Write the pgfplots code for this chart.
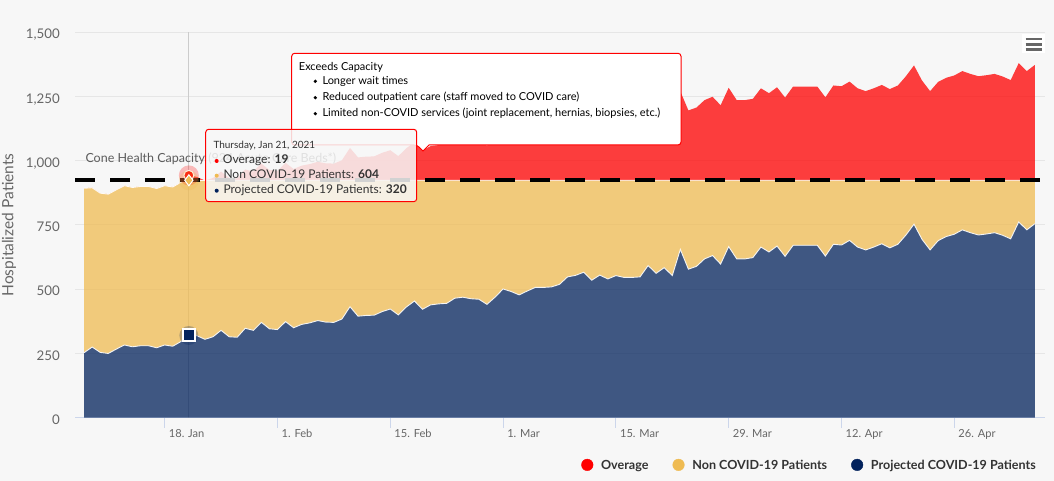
\documentclass[border=0pt]{standalone}
\usepackage{fontspec}
\setmainfont{Lato}
\usepackage{pgfplots}
\pgfplotsset{compat=1.18}
\usepackage{pgfplotstable}

\definecolor{pagebg}{HTML}{F7F7F7}
\definecolor{ovr}{HTML}{FF0000}
\definecolor{noncov}{HTML}{EFBB52}
\definecolor{cov}{HTML}{02225C}
\definecolor{gridc}{HTML}{E6E6E6}
\definecolor{axisc}{HTML}{CCD6EB}
\definecolor{lbl}{HTML}{666666}
\definecolor{txt}{HTML}{333333}
\definecolor{hairc}{HTML}{CCCCCC}

\newcommand\fs[1]{\fontsize{#1}{#1}\selectfont}

% day = days after 18 Jan 2021; cov = projected COVID-19 patients,
% non = non COVID-19 patients up to capacity, over = overage above 924 beds,
% mid = cov + non (top of the non COVID-19 band)
\pgfplotstableread{
day cov non over mid
-10 253 640 0 893
-9 275 620 0 895
-8 254 620 0 874
-7 250 620 0 870
-6 267 620 0 887
-5 283 620 0 903
-4 276 620 0 896
-3 280 620 0 900
-2 280 620 0 900
-1 272 620 0 892
0 283 620 0 903
1 278 620 0 898
2 296 620 0 916
3 320 604 19 924
4 319 605 13 924
5 305 618 0 923
6 315 609 9 924
7 340 584 34 924
8 315 609 9 924
9 313 611 7 924
10 348 576 42 924
11 340 584 34 924
12 371 553 65 924
13 346 578 40 924
14 343 581 37 924
15 374 550 68 924
16 350 574 44 924
17 363 561 57 924
18 369 555 63 924
19 378 546 72 924
20 372 552 66 924
21 371 553 65 924
22 384 540 78 924
23 432 492 126 924
24 395 529 89 924
25 398 526 92 924
26 399 525 93 924
27 413 511 107 924
28 423 501 117 924
29 400 524 94 924
30 431 493 125 924
31 454 470 148 924
32 422 502 116 924
33 439 485 133 924
34 443 481 137 924
35 445 479 139 924
36 465 459 159 924
37 469 455 163 924
38 463 461 157 924
39 461 463 155 924
40 441 483 135 924
41 469 455 163 924
42 501 423 195 924
43 491 433 185 924
44 478 446 172 924
45 493 431 187 924
46 507 417 201 924
47 507 417 201 924
48 509 415 203 924
49 519 405 213 924
50 548 376 242 924
51 554 370 248 924
52 566 358 260 924
53 535 389 229 924
54 555 369 249 924
55 540 384 234 924
56 553 371 247 924
57 546 378 240 924
58 546 378 240 924
59 548 376 242 924
60 592 332 286 924
61 562 362 256 924
62 584 340 278 924
63 553 371 247 924
64 655 269 346 924
65 578 346 272 924
66 589 335 283 924
67 618 306 312 924
68 631 293 325 924
69 598 326 292 924
70 666 258 360 924
71 618 306 312 924
72 618 306 312 924
73 623 301 317 924
74 664 260 358 924
75 645 279 339 924
76 668 256 362 924
77 628 296 322 924
78 671 253 365 924
79 671 253 365 924
80 671 253 365 924
81 671 253 365 924
82 629 295 323 924
83 675 249 369 924
84 672 252 366 924
85 690 234 384 924
86 664 260 358 924
87 653 271 347 924
88 664 260 358 924
89 677 247 371 924
90 661 263 355 924
91 675 249 369 924
92 711 213 405 924
93 753 171 447 924
94 694 230 388 924
95 653 271 347 924
96 689 235 383 924
97 705 219 399 924
98 714 210 408 924
99 731 193 425 924
100 720 204 414 924
101 711 213 405 924
102 715 209 409 924
103 720 204 414 924
104 710 214 404 924
105 696 228 390 924
106 762 162 456 924
107 731 193 425 924
108 755 169 449 924
}\beds

\pgfplotsset{
  chartframe/.style={
    at={(75pt,63.3pt)}, anchor=south west,
    scale only axis, width=970pt, height=385.4pt,
    xmin=-11.13, xmax=109.26, ymin=0, ymax=1500,
  }
}

\begin{document}
\begin{tikzpicture}[x=1pt,y=1pt]
\useasboundingbox (0,0) rectangle (1054,481);
\fill[pagebg] (0,0) rectangle (1054,481);

% export menu button
\fill[white] (1022,428) rectangle (1045,447);
\foreach \yy in {442,436.7,431.7}
  \draw[line width=2.6pt, lbl] (1025.7,\yy) -- (1042.3,\yy);

% stacked areas, grid and axes
\begin{axis}[chartframe,
  stack plots=y,
  axis x line*=bottom, axis y line*=left,
  y axis line style={draw=none},
  x axis line style={draw=axisc, line width=1pt},
  tick align=outside,
  xtick={0,14,...,98},
  xticklabels={18. Jan,1. Feb,15. Feb,1. Mar,15. Mar,29. Mar,12. Apr,26. Apr},
  xtick style={draw=axisc, line width=1pt},
  major tick length=10pt,
  xticklabel style={anchor=base west, inner sep=0pt, xshift=4pt, yshift=-9.6pt, font=\fs{11.1}, text=lbl},
  ytick={0,250,...,1500},
  yticklabels={0,250,500,750,{1,000},{1,250},{1,500}},
  ytick style={draw=none},
  yticklabel style={anchor=base east, inner sep=0pt, xshift=-5pt, yshift=-6.7pt, font=\fs{13.3}, text=lbl},
  ymajorgrids,
  major grid style={draw=gridc, line width=1pt},
  extra x ticks={3},
  extra x tick labels={},
  extra x tick style={grid=major, major tick length=0pt, major grid style={draw=hairc, line width=1pt}},
  ylabel={Hospitalized Patients},
  ylabel style={at={(axis description cs:-0.0680,0.5)}, anchor=center, font=\fs{15.5}, text=lbl},
]
\addplot[draw=none, fill=cov, fill opacity=0.75] table[x=day, y=cov]{\beds} \closedcycle;
\addplot[draw=none, fill=noncov, fill opacity=0.75] table[x=day, y=non]{\beds} \closedcycle;
\addplot[draw=none, fill=ovr, fill opacity=0.75] table[x=day, y=over]{\beds} \closedcycle;
\end{axis}

% capacity line label
\node[anchor=base west, inner sep=0pt, font=\fs{12.5}, text=lbl!90!black] at (85.3,318.7)
  {Cone Health Capacity (924 Acute Care Beds*)};

% band edges, capacity line, hovered points and legend
\begin{axis}[chartframe, hide axis,
  legend columns=3,
  legend cell align=left,
  legend style={at={(axis description cs:0.99278,-0.1245)}, anchor=east,
    draw=none, fill=none, inner sep=0pt,
    font=\fs{12.55}\bfseries, text=txt,
    /tikz/every odd column/.append style={column sep=5.8pt},
    /tikz/every even column/.append style={column sep=22pt}},
]
\addplot[forget plot, white, line width=0.9pt, opacity=0.9] table[x=day, y=cov]{\beds};
\addplot[forget plot, white, line width=0.9pt, opacity=0.9] table[x=day, y=mid]{\beds};
\addplot[forget plot, black, line width=4.3pt, dash pattern=on 20pt off 15pt]
  coordinates {(-11.13,924) (109.26,924)};

% Thursday, Jan 21, 2021
\addplot[forget plot, only marks, mark=*, mark size=10pt,
  mark options={draw opacity=0, fill=ovr, fill opacity=0.25}] coordinates {(3,943)};
\addplot[forget plot, only marks, mark=*, mark size=5pt,
  mark options={draw=white, line width=1pt, fill=ovr}] coordinates {(3,943)};
\addplot[forget plot, only marks, mark=*, mark size=10pt,
  mark options={draw opacity=0, fill=noncov, fill opacity=0.25}] coordinates {(3,924)};
\addplot[forget plot, only marks, mark=diamond*, mark size=5.5pt,
  mark options={draw=white, line width=1pt, fill=noncov}] coordinates {(3,924)};
\addplot[forget plot, only marks, mark=*, mark size=9.5pt,
  mark options={draw opacity=0, fill=cov, fill opacity=0.25}] coordinates {(3,320)};
\addplot[forget plot, only marks, mark=square*, mark size=6pt,
  mark options={draw=white, line width=2pt, fill=cov}] coordinates {(3,320)};

\addlegendimage{legend image code/.code={\fill[ovr] (0pt,0.8pt) circle (5.8pt);}}
\addlegendentry{Overage}
\addlegendimage{legend image code/.code={\fill[noncov] (0pt,0.8pt) circle (5.8pt);}}
\addlegendentry{Non COVID-19 Patients}
\addlegendimage{legend image code/.code={\fill[cov] (0pt,0.8pt) circle (5.8pt);}}
\addlegendentry{Projected COVID-19 Patients}
\end{axis}

% capacity note
\draw[ovr, line width=1pt, fill=white, rounded corners=3pt]
  (291.7,336) -- (417,336) [sharp corners] -- (423,330) -- (429,336)
  [rounded corners=3pt] -- (681,336) -- (681,427.7) -- (291.7,427.7) -- cycle;
\node[anchor=base west, inner sep=0pt, font=\fs{11}, text=black] at (298.7,410) {Exceeds Capacity};
\foreach \yb/\tx in {396.7/{Longer wait times},
                    380.3/{Reduced outpatient care (staff moved to COVID care)},
                    364.3/{Limited non-COVID services (joint replacement, hernias, biopsies, etc.)}}{
  \fill[black] (315.3,\yb+3) circle (1.8);
  \node[anchor=base west, inner sep=0pt, font=\fs{11}, text=black] at (322.3,\yb) {\tx};
}

% tooltip
\draw[ovr, line width=1pt, fill=pagebg, fill opacity=0.85, rounded corners=3pt]
  (205.7,279.3) rectangle (416.7,351.7);
\node[anchor=base west, inner sep=0pt, font=\fs{10}, text=txt] at (213.3,332) {Thursday, Jan 21, 2021};
\fill[ovr] (216.7,320) circle (2);
\fill[noncov] (216.7,305.3) circle (2);
\fill[cov] (216.7,290.3) circle (2);
\node[anchor=base west, inner sep=0pt, font=\fs{12}, text=txt] at (222.7,317.3) {Overage: \textbf{19}};
\node[anchor=base west, inner sep=0pt, font=\fs{12}, text=txt] at (223.3,302.7) {Non COVID-19 Patients: \textbf{604}};
\node[anchor=base west, inner sep=0pt, font=\fs{12}, text=txt] at (223.3,287.7) {Projected COVID-19 Patients: \textbf{320}};
\end{tikzpicture}
\end{document}
